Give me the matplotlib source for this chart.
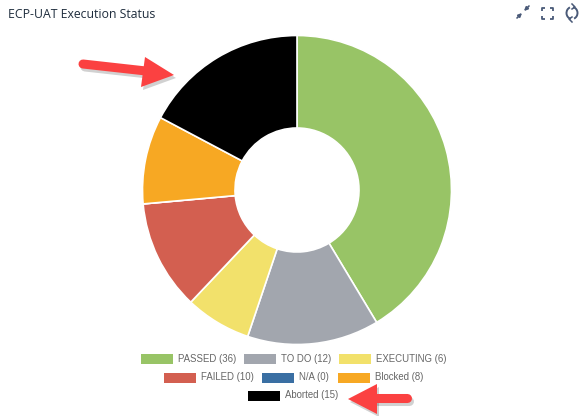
import matplotlib
matplotlib.use("Agg")
import matplotlib.pyplot as plt
from matplotlib.patches import Rectangle, Polygon, Arc

W, H = 587, 416
labels = ["PASSED", "TO DO", "EXECUTING", "FAILED", "N/A", "Blocked", "Aborted"]
values = [36, 12, 6, 10, 0, 8, 15]
colors = ["#98c466", "#a2a6ae", "#f2e16b", "#d35f50", "#3a6fa3", "#f7a823", "#000000"]
title = "ECP-UAT Execution Status"

fig = plt.figure(figsize=(W / 100, H / 100), dpi=100, facecolor="white")

# Doughnut
cx, cy, r, rin = 297, 190, 154.5, 62
ax = fig.add_axes([(cx - r) / W, 1 - (cy + r) / H, 2 * r / W, 2 * r / H])
ax.pie(values, colors=colors, startangle=90, counterclock=False, radius=1,
       wedgeprops=dict(width=1 - rin / r, edgecolor="white", linewidth=1.2))
ax.set_xlim(-1, 1)
ax.set_ylim(-1, 1)
ax.set_aspect("equal")
for p in ax.patches:
    p.set_clip_on(False)

# Overlay in pixel coordinates
ov = fig.add_axes([0, 0, 1, 1], zorder=5)
ov.set_xlim(0, W)
ov.set_ylim(H, 0)
ov.axis("off")
ov.patch.set_alpha(0)

ov.text(8, 14.5, title, fontsize=8.8, family="Open Sans", color="#1f2d3d", va="center")

# Legend
sw, sh = 32, 10
rows = [
    ([0, 1, 2], [141, 244, 339], 359),
    ([3, 4, 5], [164, 262, 338], 377.5),
    ([6], [248], 395.5),
]
for idx, xs, y in rows:
    for i, x in zip(idx, xs):
        ov.add_patch(Rectangle((x, y - sh / 2), sw, sh, facecolor=colors[i], edgecolor="none"))
        ov.text(x + sw + 5, y - 0.5, f"{labels[i]} ({values[i]})", fontsize=6.9,
                family="Liberation Sans", color="#666666", va="center")

# Red annotation arrows with soft shadow
def arrow(tail, head):
    for off, col, a, z in [((2, 3), "#000000", 0.18, 6), ((0, 0), "#fb4141", 1, 7)]:
        ov.plot([tail[0] + off[0], tail[1] + off[0]], [tail[2] + off[1], tail[3] + off[1]],
                color=col, alpha=a, lw=6.5, solid_capstyle="round", zorder=z)
        ov.add_patch(Polygon([(x + off[0], y + off[1]) for x, y in head], closed=True,
                             facecolor=col, alpha=a, edgecolor="none", zorder=z))

arrow((83, 146, 64, 71), [(145, 57), (174, 75), (141, 87)])
arrow((407, 376, 398, 398), [(377, 384), (348, 399), (377, 414)])

# Toolbar icons
ic = "#4a5a78"
for (x0, y0, x1, y1) in [(517, 18, 522, 13), (529, 6, 524, 11)]:
    ov.annotate("", xy=(x1, y1), xytext=(x0, y0),
                arrowprops=dict(arrowstyle="-|>", color=ic, lw=1.2, mutation_scale=5, shrinkA=0, shrinkB=0))
for sx, sy in [(1, 1), (-1, 1), (1, -1), (-1, -1)]:
    xc = 547 - sx * 5.5
    yc = 13 - sy * 5.5
    ov.plot([xc + sx * 3, xc, xc], [yc, yc, yc + sy * 3], color=ic, lw=1.3, solid_capstyle="butt")
ov.add_patch(Arc((572, 13), 11, 12, theta1=100, theta2=250, color=ic, lw=1.4))
ov.add_patch(Arc((572, 13), 11, 12, theta1=280, theta2=70, color=ic, lw=1.4))
ov.plot([572, 575, 572], [4, 7, 9], color=ic, lw=1.1)
ov.plot([572, 569, 572], [22, 19, 17], color=ic, lw=1.1)

fig.savefig("out.png", dpi=100, facecolor="white")
